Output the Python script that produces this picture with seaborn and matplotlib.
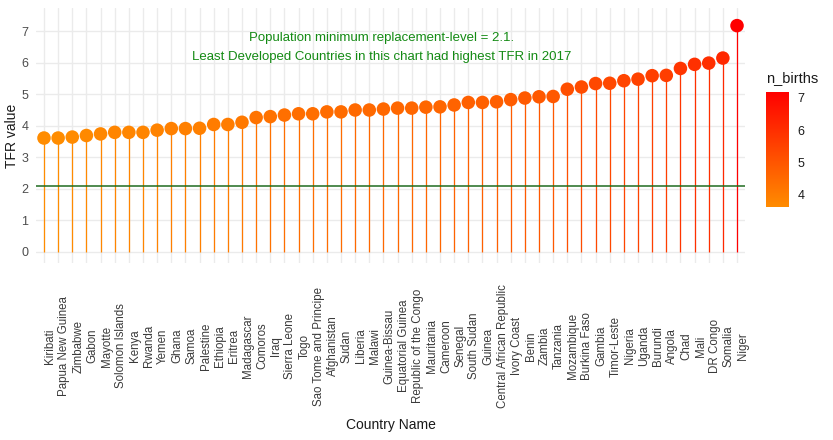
import numpy as np
import pandas as pd
import matplotlib
matplotlib.use("Agg")
import matplotlib.pyplot as plt
import seaborn as sns
from matplotlib.colors import LinearSegmentedColormap, Normalize
from matplotlib.cm import ScalarMappable

countries = ['Kiribati', 'Papua New Guinea', 'Zimbabwe', 'Gabon', 'Mayotte', 'Solomon Islands',
             'Kenya', 'Rwanda', 'Yemen', 'Ghana', 'Samoa', 'Palestine', 'Ethiopia', 'Eritrea',
             'Madagascar', 'Comoros', 'Iraq', 'Sierra Leone', 'Togo', 'Sao Tome and Principe',
             'Afghanistan', 'Sudan', 'Liberia', 'Malawi', 'Guinea-Bissau', 'Equatorial Guinea',
             'Republic of the Congo', 'Mauritania', 'Cameroon', 'Senegal', 'South Sudan', 'Guinea',
             'Central African Republic', 'Ivory Coast', 'Benin', 'Zambia', 'Tanzania', 'Mozambique',
             'Burkina Faso', 'Gambia', 'Timor-Leste', 'Nigeria', 'Uganda', 'Burundi', 'Angola',
             'Chad', 'Mali', 'DR Congo', 'Somalia', 'Niger']
tfr = [3.61, 3.61, 3.64, 3.69, 3.74, 3.79, 3.79, 3.79, 3.86, 3.91, 3.91, 3.92, 4.04, 4.04,
       4.11, 4.26, 4.29, 4.34, 4.38, 4.38, 4.44, 4.44, 4.50, 4.50, 4.53, 4.56, 4.56, 4.59,
       4.60, 4.66, 4.74, 4.74, 4.76, 4.83, 4.88, 4.92, 4.93, 5.16, 5.23, 5.34, 5.35, 5.43,
       5.48, 5.59, 5.60, 5.82, 5.95, 5.99, 6.15, 7.18]
cbar_ticks = [4, 5, 6, 7]
y_ticks = [0, 1, 2, 3, 4, 5, 6, 7]
replacement = 2.1
note_1 = "Population minimum replacement-level = 2.1."
note_2 = "Least Developed Countries in this chart had highest TFR in 2017"

df = pd.DataFrame({"country": countries, "tfr": tfr})

sns.set_theme(style="whitegrid")
plt.rcParams['font.family'] = ['Liberation Sans', 'DejaVu Sans']

cmap = LinearSegmentedColormap.from_list("births", ["#FF8C00", "#FF0000"])
norm = Normalize(df.tfr.min(), df.tfr.max())

fig = plt.figure(figsize=(8.33, 4.4), dpi=100)
ax = fig.add_axes([35.5 / 833, 1 - 263 / 440, 710 / 833, 255 / 440])

# lollipop sticks
xpos = np.arange(len(df))
ax.vlines(xpos, 0, df.tfr, colors=cmap(norm(df.tfr.values)), linewidth=0.9, zorder=2)
sns.scatterplot(data=df, x="country", y="tfr", hue="tfr", palette=cmap, hue_norm=norm,
                s=95, edgecolor="none", linewidth=0, legend=False, ax=ax, zorder=3)
ax.axhline(replacement, color="#1f6b1f", linewidth=1.1, zorder=2.5)

ax.text(23.9, 6.80, note_1, ha="center", va="center", color="#138a13", fontsize=9.5)
ax.text(23.9, 6.17, note_2, ha="center", va="center", color="#138a13", fontsize=9.5)

ax.set_xlim(-0.6, len(df) - 0.4)
ax.set_ylim(-0.36, 7.74)
ax.set_yticks(y_ticks)
ax.set_xticks(xpos)
ax.set_xticklabels(countries, rotation=90, ha="left", va="center")
for s in ax.spines.values():
    s.set_visible(False)
ax.grid(True, color="#EBEBEB", linewidth=1.0)
ax.tick_params(axis="x", length=0, pad=59.8, labelsize=8.3, labelcolor="#3a3a3a")
ax.tick_params(axis="y", length=0, pad=5, labelsize=9, labelcolor="#4D4D4D")

ax.set_xlabel("Country Name", fontsize=10, color="#1a1a1a")
ax.xaxis.set_label_coords(0.5, (263 - 425) / 255)
ax.xaxis.label.set_va("center")
ax.set_ylabel("TFR value", fontsize=10, color="#1a1a1a")
ax.yaxis.set_label_coords((12 - 35.5) / 710, 0.5)
ax.yaxis.label.set_va("center")

# colour legend
cax = fig.add_axes([766 / 833, 1 - 207 / 440, 23 / 833, 115 / 440])
sm = ScalarMappable(norm=norm, cmap=cmap)
cbar = fig.colorbar(sm, cax=cax, ticks=cbar_ticks)
cbar.outline.set_visible(False)
cax.tick_params(left=True, right=True, direction="in", color="white", length=4, width=0.8,
                labelsize=9, labelcolor="#1a1a1a", pad=6)
fig.text(766 / 833, 1 - 78 / 440, "n_births", fontsize=10.5, va="center", ha="left", color="#1a1a1a")

fig.savefig("out.png", dpi=100)
